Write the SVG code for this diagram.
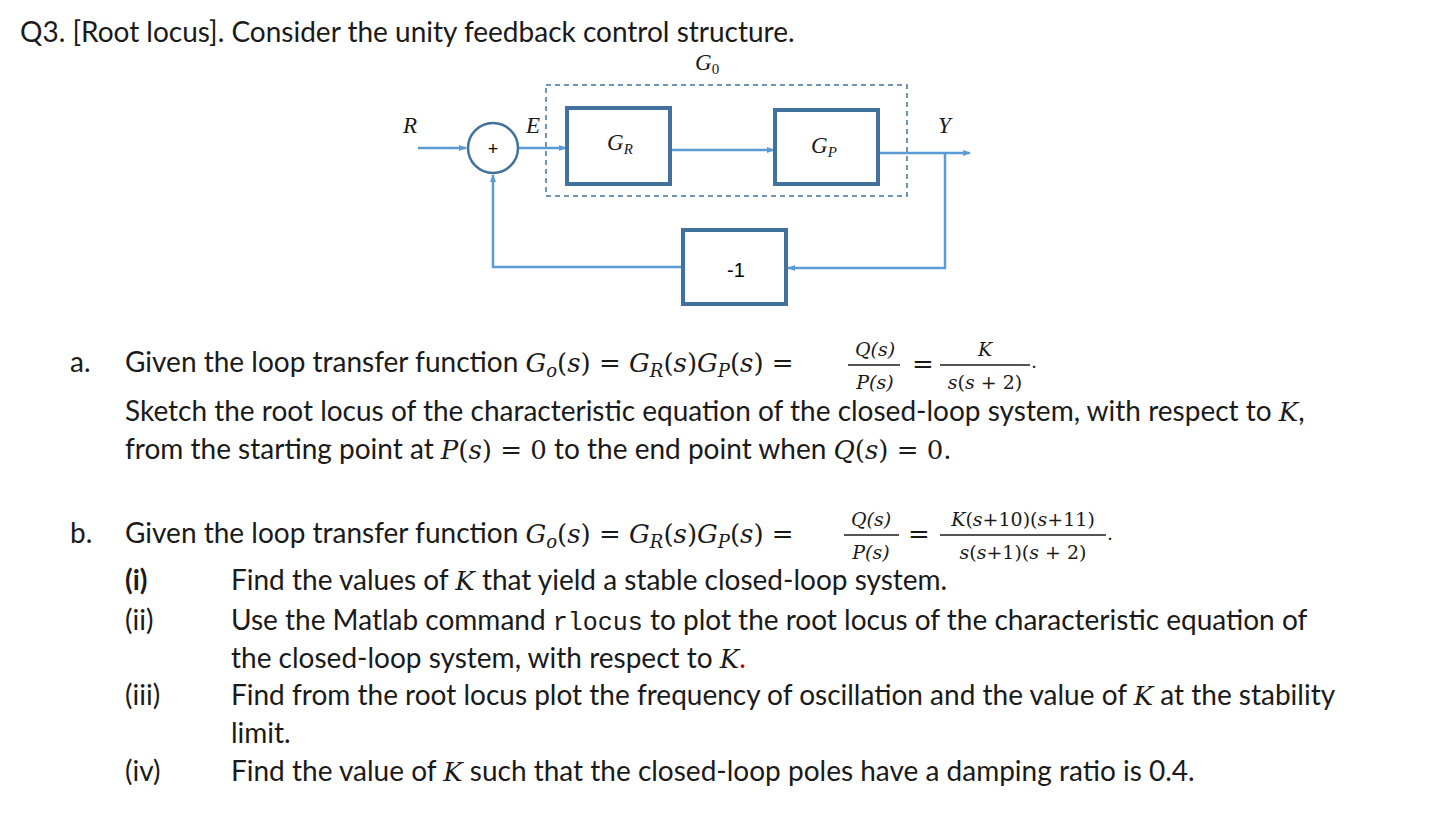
<svg xmlns="http://www.w3.org/2000/svg" width="1445" height="831" viewBox="0 0 1445 831">
<style>
.t{font-family:Lato,"Open Sans",sans-serif;font-size:28px;fill:#1a1a1a}
.m{font-family:"DejaVu Serif","Liberation Serif",serif;font-style:italic;font-size:26px;fill:#1a1a1a}
.mr{font-family:"DejaVu Serif","Liberation Serif",serif;font-size:26px;fill:#1a1a1a}
.sub{font-size:18px}
.s{font-family:"DejaVu Serif","Liberation Serif",serif;font-size:19px;fill:#1a1a1a}
.blk{fill:none;stroke:#41719c;stroke-width:4}
.ln{fill:none;stroke:#5b9bd5;stroke-width:2.5}
.lbl{font-family:"Liberation Serif",serif;font-style:italic;font-size:23px;fill:#1a1a1a}
</style>
<defs><marker id="a" markerWidth="8" markerHeight="8" refX="7" refY="4" orient="auto" markerUnits="userSpaceOnUse"><path d="M0,1 L8,4 L0,7z" fill="#5b9bd5"/></marker></defs>
<rect width="1445" height="831" fill="#fff"/>
<text class="t" x="20" y="42">Q3. [Root locus]. Consider the unity feedback control structure.</text>
<text class="lbl" x="695" y="70">G<tspan style="font-size:15px;font-style:normal" dy="4">0</tspan></text>
<rect x="546" y="85" width="361" height="111" fill="none" stroke="#41719c" stroke-width="1.5" stroke-dasharray="5,4"/>
<g id="connectors">
<path class="ln" d="M418,148 H466" marker-end="url(#a)"/>
<path class="ln" d="M518,148 H566" marker-end="url(#a)"/>
<path class="ln" d="M670,150 H774" marker-end="url(#a)"/>
<path class="ln" d="M878,153 H970" marker-end="url(#a)"/>
<path class="ln" d="M945,153 V268 H788" marker-end="url(#a)"/>
<path class="ln" d="M683,267 H493 V175" marker-end="url(#a)"/>
</g>
<g id="sum"><circle cx="493" cy="148" r="25" fill="#fff" stroke="#41719c" stroke-width="2.5"/><text x="493" y="155" text-anchor="middle" font-family="Liberation Sans,sans-serif" font-size="18">+</text></g>
<text class="lbl" x="403" y="133">R</text>
<text class="lbl" x="526" y="133">E</text>
<text class="lbl" x="938" y="133">Y</text>
<g id="GR"><rect class="blk" x="567" y="108" width="103" height="76" fill="#fff"/><text class="lbl" x="607" y="150">G<tspan style="font-size:15px" dy="4">R</tspan></text></g>
<g id="GP"><rect class="blk" x="775" y="110" width="103" height="74" fill="#fff"/><text class="lbl" x="811" y="153">G<tspan style="font-size:15px" dy="4">P</tspan></text></g>
<g id="neg"><rect class="blk" x="683" y="230" width="103" height="74" fill="#fff"/><text x="736" y="277" text-anchor="middle" font-family="Liberation Sans,sans-serif" font-size="20">-1</text></g>

<text class="t" x="70" y="372">a.</text>
<text class="t" x="125" y="372">Given the loop transfer function <tspan class="m">G</tspan><tspan class="m sub" dy="5">o</tspan><tspan class="mr" dy="-5">(</tspan><tspan class="m">s</tspan><tspan class="mr">) =  </tspan><tspan class="m">G</tspan><tspan class="m sub" dy="5">R</tspan><tspan class="mr" dy="-5">(</tspan><tspan class="m">s</tspan><tspan class="mr">)</tspan><tspan class="m">G</tspan><tspan class="m sub" dy="5">P</tspan><tspan class="mr" dy="-5">(</tspan><tspan class="m">s</tspan><tspan class="mr">) =</tspan></text>
<text class="s" x="875" y="356" text-anchor="middle" font-style="italic">Q(s)</text>
<line x1="848" y1="365" x2="900" y2="365" stroke="#1a1a1a" stroke-width="1.5"/>
<text class="s" x="875" y="389" text-anchor="middle" font-style="italic">P(s)</text>
<text class="mr" x="912" y="373">=</text>
<text class="s" x="985" y="356" text-anchor="middle" font-style="italic">K</text>
<line x1="940" y1="365" x2="1030" y2="365" stroke="#1a1a1a" stroke-width="1.5"/>
<text class="s" x="985" y="389" text-anchor="middle"><tspan font-style="italic">s</tspan>(<tspan font-style="italic">s</tspan> + 2)</text>
<text class="s" x="1031" y="368">.</text>
<text class="t" x="125" y="421">Sketch the root locus of the characteristic equation of the closed-loop system, with respect to <tspan class="m">K</tspan>,</text>
<text class="t" x="125" y="459">from the starting point at <tspan class="m">P</tspan><tspan class="mr">(</tspan><tspan class="m">s</tspan><tspan class="mr">) = 0</tspan> to the end point when <tspan class="m">Q</tspan><tspan class="mr">(</tspan><tspan class="m">s</tspan><tspan class="mr">) = 0.</tspan></text>

<text class="t" x="70" y="543">b.</text>
<text class="t" x="125" y="543">Given the loop transfer function <tspan class="m">G</tspan><tspan class="m sub" dy="5">o</tspan><tspan class="mr" dy="-5">(</tspan><tspan class="m">s</tspan><tspan class="mr">) = </tspan><tspan class="m">G</tspan><tspan class="m sub" dy="5">R</tspan><tspan class="mr" dy="-5">(</tspan><tspan class="m">s</tspan><tspan class="mr">)</tspan><tspan class="m">G</tspan><tspan class="m sub" dy="5">P</tspan><tspan class="mr" dy="-5">(</tspan><tspan class="m">s</tspan><tspan class="mr">) =</tspan></text>
<text class="s" x="871" y="526" text-anchor="middle" font-style="italic">Q(s)</text>
<line x1="844" y1="535" x2="899" y2="535" stroke="#1a1a1a" stroke-width="1.5"/>
<text class="s" x="871" y="559" text-anchor="middle" font-style="italic">P(s)</text>
<text class="mr" x="908" y="543">=</text>
<text class="s" x="1023" y="526" text-anchor="middle"><tspan font-style="italic">K</tspan>(<tspan font-style="italic">s</tspan>+10)(<tspan font-style="italic">s</tspan>+11)</text>
<line x1="940" y1="535" x2="1106" y2="535" stroke="#1a1a1a" stroke-width="1.5"/>
<text class="s" x="1023" y="559" text-anchor="middle"><tspan font-style="italic">s</tspan>(<tspan font-style="italic">s</tspan>+1)(<tspan font-style="italic">s</tspan> + 2)</text>
<text class="s" x="1107" y="540">.</text>

<text class="t" x="125" y="590" font-weight="bold">(i)</text>
<text class="t" x="231" y="590">Find the values of <tspan class="m">K</tspan> that yield a stable closed-loop system.</text>
<text class="t" x="125" y="630">(ii)</text>
<text class="t" x="231" y="630">Use the Matlab command <tspan font-family="Liberation Mono,monospace" style="font-family:'Liberation Mono',monospace;font-size:25px">rlocus</tspan> to plot the root locus of the characteristic equation of</text>
<text class="t" x="231" y="668">the closed-loop system, with respect to <tspan class="m">K</tspan><tspan fill="#c00000">.</tspan></text>
<text class="t" x="125" y="705">(iii)</text>
<text class="t" x="231" y="705">Find from the root locus plot the frequency of oscillation and the value of <tspan class="m">K</tspan> at the stability</text>
<text class="t" x="231" y="743">limit.</text>
<text class="t" x="125" y="781">(iv)</text>
<text class="t" x="231" y="781">Find the value of <tspan class="m">K</tspan> such that the closed-loop poles have a damping ratio is 0.4.</text>
</svg>
